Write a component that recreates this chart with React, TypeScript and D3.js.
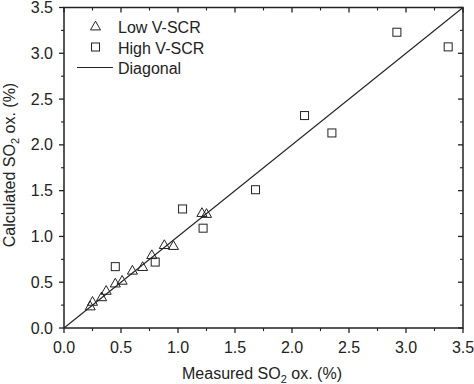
import { useEffect, useRef } from 'react';
import * as d3 from 'd3';

// Low V-SCR (triangles)
const lowX = [0.23, 0.25, 0.33, 0.37, 0.45, 0.51, 0.6, 0.69, 0.77, 0.88, 0.96, 1.21, 1.25];
const lowY = [0.23, 0.28, 0.33, 0.4, 0.48, 0.51, 0.62, 0.66, 0.79, 0.9, 0.89, 1.25, 1.24];
// High V-SCR (squares)
const highX = [0.45, 0.8, 1.04, 1.22, 1.68, 2.11, 2.35, 2.92, 3.37];
const highY = [0.67, 0.72, 1.3, 1.09, 1.51, 2.32, 2.13, 3.23, 3.07];

const ticks = [0, 0.5, 1.0, 1.5, 2.0, 2.5, 3.0, 3.5];
const minorTicks = [0.25, 0.75, 1.25, 1.75, 2.25, 2.75, 3.25];

function App() {
  const ref = useRef<SVGSVGElement>(null);

  useEffect(() => {
    const svg = d3.select(ref.current);
    svg.selectAll('*').remove();

    const left = 64, right = 463, top = 7.5, bottom = 328;
    const x = d3.scaleLinear().domain([0, 3.5]).range([left, right]);
    const y = d3.scaleLinear().domain([0, 3.5]).range([bottom, top]);
    const ink = '#222';
    const font = 'Liberation Sans, Arial, sans-serif';
    const fs = 16;

    const g = svg.append('g');

    // diagonal
    g.append('line')
      .attr('x1', x(0)).attr('y1', y(0))
      .attr('x2', x(3.5)).attr('y2', y(3.5))
      .attr('stroke', ink).attr('stroke-width', 1.1);

    // frame
    g.append('rect')
      .attr('x', left).attr('y', top)
      .attr('width', right - left).attr('height', bottom - top)
      .attr('fill', 'none').attr('stroke', ink).attr('stroke-width', 1.5);

    // bottom ticks (out)
    g.selectAll('.bt').data(ticks).enter().append('line')
      .attr('x1', (d) => x(d)).attr('x2', (d) => x(d))
      .attr('y1', bottom).attr('y2', bottom + 5)
      .attr('stroke', ink).attr('stroke-width', 1.3);
    g.selectAll('.bm').data(minorTicks).enter().append('line')
      .attr('x1', (d) => x(d)).attr('x2', (d) => x(d))
      .attr('y1', bottom).attr('y2', bottom + 3)
      .attr('stroke', ink).attr('stroke-width', 1.1);
    // top ticks (in)
    g.selectAll('.tt').data(ticks).enter().append('line')
      .attr('x1', (d) => x(d)).attr('x2', (d) => x(d))
      .attr('y1', top).attr('y2', top + 5)
      .attr('stroke', ink).attr('stroke-width', 1.3);
    g.selectAll('.tm').data(minorTicks).enter().append('line')
      .attr('x1', (d) => x(d)).attr('x2', (d) => x(d))
      .attr('y1', top).attr('y2', top + 3)
      .attr('stroke', ink).attr('stroke-width', 1.1);
    // left ticks (out)
    g.selectAll('.lt').data(ticks).enter().append('line')
      .attr('y1', (d) => y(d)).attr('y2', (d) => y(d))
      .attr('x1', left).attr('x2', left - 5)
      .attr('stroke', ink).attr('stroke-width', 1.3);
    g.selectAll('.lm').data(minorTicks).enter().append('line')
      .attr('y1', (d) => y(d)).attr('y2', (d) => y(d))
      .attr('x1', left).attr('x2', left - 3)
      .attr('stroke', ink).attr('stroke-width', 1.1);
    // right ticks (in)
    g.selectAll('.rt').data(ticks).enter().append('line')
      .attr('y1', (d) => y(d)).attr('y2', (d) => y(d))
      .attr('x1', right).attr('x2', right - 5)
      .attr('stroke', ink).attr('stroke-width', 1.3);
    g.selectAll('.rm').data(minorTicks).enter().append('line')
      .attr('y1', (d) => y(d)).attr('y2', (d) => y(d))
      .attr('x1', right).attr('x2', right - 3)
      .attr('stroke', ink).attr('stroke-width', 1.1);

    // tick labels
    g.selectAll('.xl').data(ticks).enter().append('text')
      .attr('x', (d) => x(d)).attr('y', 353)
      .attr('text-anchor', 'middle')
      .attr('font-family', font).attr('font-size', fs).attr('fill', ink)
      .text((d) => d.toFixed(1));
    g.selectAll('.yl').data(ticks).enter().append('text')
      .attr('x', 53).attr('y', (d) => y(d) + 5.5)
      .attr('text-anchor', 'end')
      .attr('font-family', font).attr('font-size', fs).attr('fill', ink)
      .text((d) => d.toFixed(1));

    // axis titles
    const xt = g.append('text')
      .attr('x', 262).attr('y', 379)
      .attr('text-anchor', 'middle')
      .attr('font-family', font).attr('font-size', fs).attr('fill', ink);
    xt.append('tspan').text('Measured SO');
    xt.append('tspan').attr('font-size', 11).attr('dy', 4).text('2');
    xt.append('tspan').attr('dy', -4).text('  ox. (%)');

    const yt = g.append('text')
      .attr('transform', 'translate(14.5,165) rotate(-90)')
      .attr('text-anchor', 'middle')
      .attr('font-family', font).attr('font-size', fs).attr('fill', ink);
    yt.append('tspan').text('Calculated SO');
    yt.append('tspan').attr('font-size', 11).attr('dy', 4).text('2');
    yt.append('tspan').attr('dy', -4).text('  ox. (%)');

    // markers
    const tri = d3.symbol().type(d3.symbolTriangle).size(44);
    g.selectAll('.low').data(lowX).enter().append('path')
      .attr('d', tri)
      .attr('transform', (d, i) => `translate(${x(d)},${y(lowY[i])})`)
      .attr('fill', 'none').attr('stroke', ink).attr('stroke-width', 1);

    const sq = 8;
    g.selectAll('.high').data(highX).enter().append('rect')
      .attr('x', (d) => x(d) - sq / 2)
      .attr('y', (d, i) => y(highY[i]) - sq / 2)
      .attr('width', sq).attr('height', sq)
      .attr('fill', 'none').attr('stroke', ink).attr('stroke-width', 1);

    // legend
    const lg = g.append('g');
    lg.append('path').attr('d', tri)
      .attr('transform', 'translate(95.5,27)')
      .attr('fill', 'none').attr('stroke', ink).attr('stroke-width', 1);
    lg.append('text').attr('x', 118).attr('y', 33)
      .attr('font-family', font).attr('font-size', fs).attr('fill', ink)
      .text('Low V-SCR');
    lg.append('rect').attr('x', 91.5).attr('y', 43).attr('width', sq).attr('height', sq)
      .attr('fill', 'none').attr('stroke', ink).attr('stroke-width', 1);
    lg.append('text').attr('x', 118).attr('y', 53.5)
      .attr('font-family', font).attr('font-size', fs).attr('fill', ink)
      .text('High V-SCR');
    lg.append('line').attr('x1', 77).attr('x2', 113).attr('y1', 67.5).attr('y2', 67.5)
      .attr('stroke', ink).attr('stroke-width', 1.1);
    lg.append('text').attr('x', 118).attr('y', 74)
      .attr('font-family', font).attr('font-size', fs).attr('fill', ink)
      .text('Diagonal');
  }, []);

  return (
    <div>
      <svg ref={ref} width={474} height={384} style={{ position: 'absolute', left: 0, top: 0 }} />
    </div>
  );
}

export default App;
